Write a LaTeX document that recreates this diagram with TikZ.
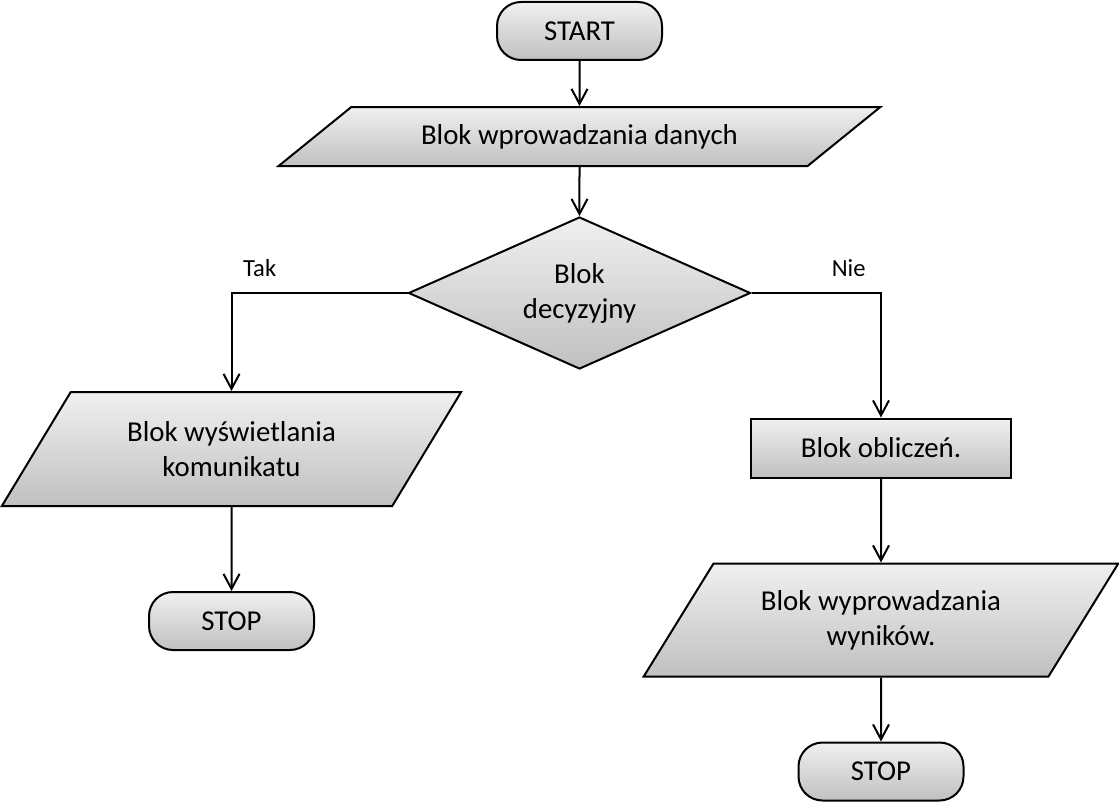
\documentclass[tikz,border=0pt]{standalone}
\usepackage{fontspec}
\setmainfont{Carlito}
\usetikzlibrary{shapes,positioning,arrows.meta,calc}
\definecolor{shadetop}{RGB}{240,240,240}
\definecolor{shadebot}{RGB}{192,192,192}
\tikzstyle{block} = [draw=black, line width=1pt, top color=shadetop, bottom color=shadebot, text centered, inner sep=0pt, font=\fontsize{14.4}{17.5}\selectfont]
\tikzstyle{terminal} = [block, rectangle, rounded corners=12pt, minimum width=82.5pt, minimum height=29pt]
\tikzstyle{io} = [block, trapezium, trapezium stretches=true, align=center]
\tikzstyle{process} = [block, rectangle, minimum width=130pt, minimum height=29.5pt]
\tikzstyle{decision} = [block, diamond, aspect=2.25, minimum width=171pt, minimum height=76pt, align=center]
\tikzstyle{arrow} = [line width=1pt, -{Straight Barb[length=7.5pt,width=8pt]}]
\tikzstyle{answer} = [inner sep=0pt, font=\fontsize{12.3}{14}\selectfont]

\begin{document}
\begin{tikzpicture}[x=0.5pt, y=-0.5pt]
\useasboundingbox (0,0) rectangle (1119,808);

\node[terminal] (start) at (579.5,31) {START};
\node[io, trapezium left angle=26, trapezium right angle=154, minimum width=301.5pt, minimum height=29.5pt, below=22.5pt of start] (input) {Blok wprowadzania danych};
\node[decision, below=24.5pt of input] (dec) {Blok\\decyzyjny};

\node[io, trapezium left angle=51, trapezium right angle=129, minimum width=230pt, minimum height=57pt] (disp) at (231.5,449) {Blok wyświetlania\\komunikatu};
\node[terminal, below=42pt of disp] (stopL) {STOP};

\node[process] (calc) at (881,448) {Blok obliczeń.};
\node[io, trapezium left angle=50, trapezium right angle=130, minimum width=237.5pt, minimum height=56.5pt, below=42pt of calc] (out) {Blok wyprowadzania\\wyników.};
\node[terminal, below=32pt of out] (stopR) {STOP};

\draw[arrow] (start) -- (input);
\draw[arrow] (input) -- (dec);
\draw[arrow] (dec.west) -| node[answer, pos=0.42, above=7.5pt]{Tak} (disp.north);
\draw[arrow] (dec.east) -| node[answer, pos=0.375, above=7.5pt]{Nie} (calc.north);
\draw[arrow] (disp) -- (stopL);
\draw[arrow] (calc) -- (out);
\draw[arrow] (out) -- (stopR);

\end{tikzpicture}
\end{document}
